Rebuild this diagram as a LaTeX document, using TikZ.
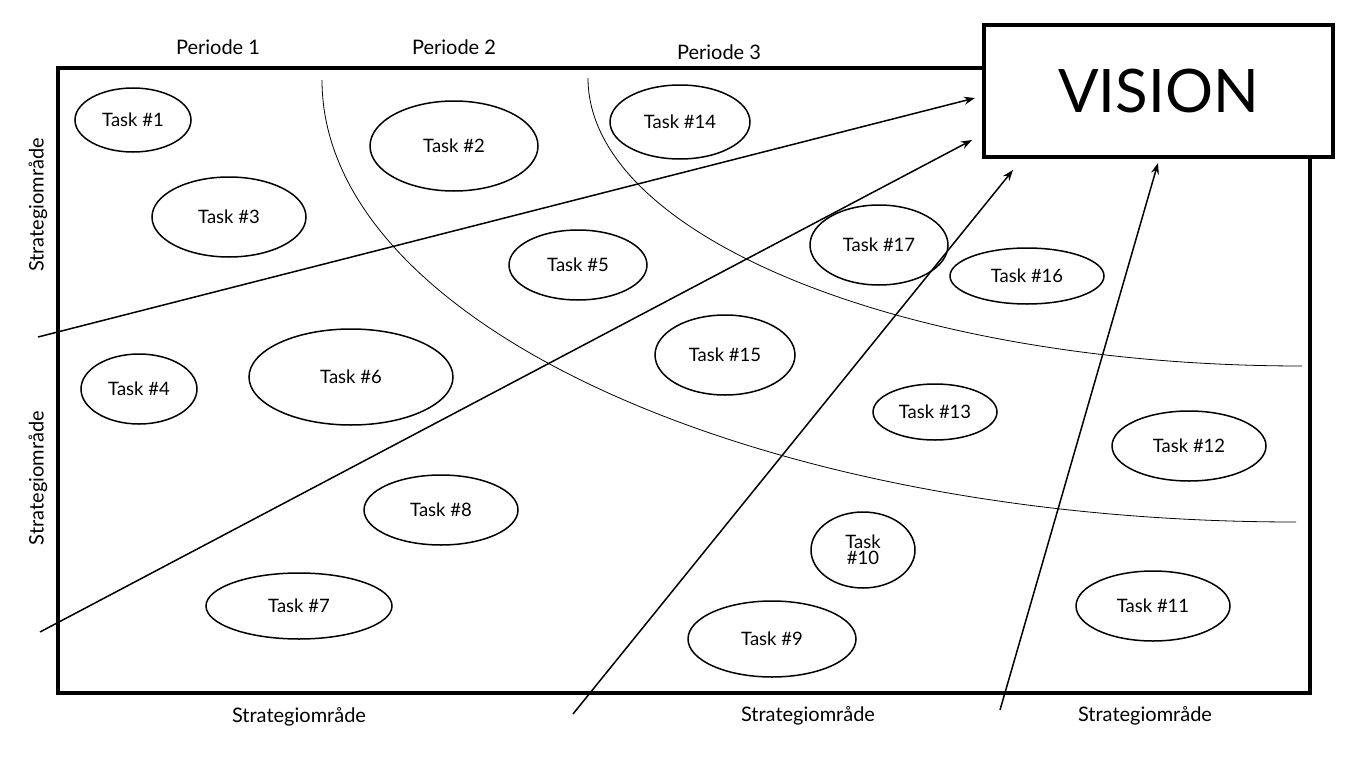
\documentclass[tikz,border=0pt]{standalone}
\usepackage{fontspec}
\setmainfont{Lato}
\usetikzlibrary{shapes.geometric,arrows.meta,positioning}
\tikzset{
  task/.style={draw,ellipse,line width=1.5pt,inner sep=0pt,font=\fontsize{18.5}{19}\selectfont,align=center},
  lbl/.style={font=\fontsize{20}{22}\selectfont},
  road/.style={line width=1.5pt,-{Stealth[length=11pt,width=8pt]}}
}
\begin{document}
\begin{tikzpicture}[x=1pt,y=-1pt]
	\useasboundingbox (0,0) rectangle (1360,776);
	\draw[line width=3.5pt] (58,68) rectangle (1310,693);

	% periods
	\draw[line width=0.8pt] (322,80) arc[start angle=180,end angle=270,x radius=974,y radius=-442];
	\draw[line width=0.8pt] (588,78) arc[start angle=180,end angle=270,x radius=714,y radius=-288];

	\node[lbl] (p1) at (218,47) {Periode 1};
	\node[lbl] (p2) at (454,47) {Periode 2};
	\node[lbl] (p3) at (719,52) {Periode 3};
	\node[lbl,rotate=90] (s1) at (38,205) {Strategiområde};
	\node[lbl,rotate=90] (s2) at (38,478) {Strategiområde};
	\node[lbl] (s3) at (299,717) {Strategiområde};
	\node[lbl] (s4) at (808,716) {Strategiområde};
	\node[lbl] (s5) at (1145,716) {Strategiområde};

	% tasks
	\node[task,minimum width=116,minimum height=64] (t1) at (133,120) {Task \#1};
	\node[task,minimum width=168,minimum height=90] (t2) at (454,146) {Task \#2};
	\node[task,minimum width=154,minimum height=80] (t3) at (229,217) {Task \#3};
	\node[task,minimum width=116,minimum height=70] (t4) at (139,389) {Task \#4};
	\node[task,minimum width=138,minimum height=70] (t5) at (578,265) {Task \#5};
	\node[task,minimum width=204,minimum height=96] (t6) at (351,377) {Task \#6};
	\node[task,minimum width=186,minimum height=66] (t7) at (299,606) {Task \#7};
	\node[task,minimum width=154,minimum height=70] (t8) at (441,510) {Task \#8};
	\node[task,minimum width=168,minimum height=76] (t9) at (772,639) {Task \#9};
	\node[task,minimum width=104,minimum height=76] (t10) at (863,550) {Task\\[-3pt]\#10};
	\node[task,minimum width=154,minimum height=70] (t11) at (1153,606) {Task \#11};
	\node[task,minimum width=154,minimum height=70] (t12) at (1189,446) {Task \#12};
	\node[task,minimum width=124,minimum height=56] (t13) at (935,412) {Task \#13};
	\node[task,minimum width=140,minimum height=74] (t14) at (680,122) {Task \#14};
	\node[task,minimum width=140,minimum height=80] (t15) at (725,355) {Task \#15};
	\node[task,minimum width=154,minimum height=56] (t16) at (1027,276) {Task \#16};
	\node[task,minimum width=138,minimum height=80] (t17) at (879,245) {Task \#17};

	% roads to the vision
	\coordinate (a1) at (38,337);
	\coordinate (a2) at (40,632);
	\coordinate (a3) at (573,714);
	\coordinate (a4) at (1000,710);
	\coordinate (b1) at (975,98);
	\coordinate (b2) at (972,140);
	\coordinate (b3) at (1013,170);
	\coordinate (b4) at (1158,163);
	\draw[road] (a1) -- (b1);
	\draw[road] (a2) -- (b2);
	\draw[road] (a3) -- (b3);
	\draw[road] (a4) -- (b4);

	\node[draw,fill=white,line width=3.5pt,minimum width=349,minimum height=132,font=\fontsize{60}{62}\selectfont] (vision) at (1158.5,91) {VISION};
\end{tikzpicture}
\end{document}
